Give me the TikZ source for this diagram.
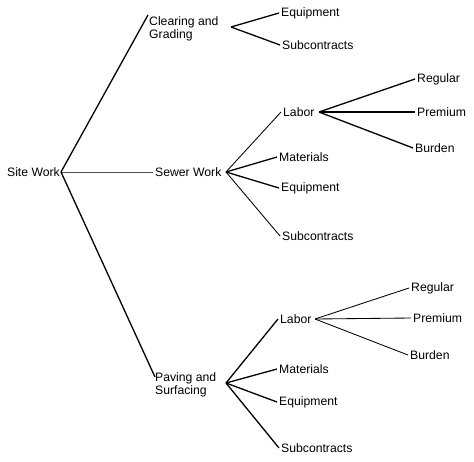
\documentclass[tikz,border=0pt]{standalone}
\usepackage{fontspec}
\setmainfont{Liberation Sans}
\usetikzlibrary{calc}
\begin{document}
\begin{tikzpicture}[x=1pt,y=-1pt,
  lbl/.style={inner sep=2pt,anchor=west,font=\fontsize{12.2}{13}\selectfont},
  lbl2/.style={inner sep=1pt,anchor=north west,align=left,font=\fontsize{12.2}{13}\selectfont},
  thk/.style={line width=1.3pt,black},
  thn/.style={line width=0.85pt,black},
  grayline/.style={line width=1pt,black!70}]
\useasboundingbox (0,0) rectangle (474,461);
% level 0
\node[lbl,anchor=east,inner sep=1pt] (site) at (61,172) {Site Work};
% level 1
\node[lbl2] (clr) at (148,15) {Clearing and\\Grading};
\node[lbl] (sew) at (153,172) {Sewer Work};
\node[lbl2] (pav) at (154,371) {Paving and\\Surfacing};
\coordinate (clrj) at (231,27);
\coordinate (sewj) at (226,172);
\coordinate (pavj) at (226,383);
% clearing children
\node[lbl] (ce) at (279,13) {Equipment};
\node[lbl] (cs) at (280,45) {Subcontracts};
% sewer children
\node[lbl] (sl) at (281,112) {Labor};
\node[lbl] (sm) at (277,157) {Materials};
\node[lbl] (se) at (279,188) {Equipment};
\node[lbl] (ss) at (280,236) {Subcontracts};
\coordinate (slj) at (319,112);
\node[lbl] (sr) at (415,79) {Regular};
\node[lbl] (sp) at (415,112) {Premium};
\node[lbl] (sb) at (413,148) {Burden};
% paving children
\node[lbl] (pl) at (278,319) {Labor};
\node[lbl] (pm) at (277,369) {Materials};
\node[lbl] (pe) at (277,402) {Equipment};
\node[lbl] (ps) at (279,448) {Subcontracts};
\coordinate (plj) at (315,319);
\node[lbl] (pr) at (409,288) {Regular};
\node[lbl] (pp) at (411,318) {Premium};
\node[lbl] (pb) at (408,355) {Burden};
% connectors
\draw[thk] (site.east) -- (clr.north west);
\draw[grayline] (site.east) -- (sew.west);
\draw[thk] (site.east) -- ($(pav.north west)+(1,6)$);
\draw[thk] (clrj) -- (ce.west);
\draw[thk] (clrj) -- (cs.west);
\draw[thn] (sewj) -- (sl.west);
\draw[thk] (sewj) -- (sm.west);
\draw[thk] (sewj) -- (se.west);
\draw[thn] (sewj) -- (ss.west);
\draw[thk] (slj) -- (sr.west);
\draw[thk] (slj) -- (sp.west);
\draw[thk] (slj) -- (sb.west);
\draw[thk] (pavj) -- (pl.west);
\draw[thk] (pavj) -- (pm.west);
\draw[thk] (pavj) -- (pe.west);
\draw[thk] (pavj) -- (ps.west);
\draw[thn] (plj) -- (pr.west);
\draw[thn] (plj) -- (pp.west);
\draw[thn] (plj) -- (pb.west);
\end{tikzpicture}
\end{document}
